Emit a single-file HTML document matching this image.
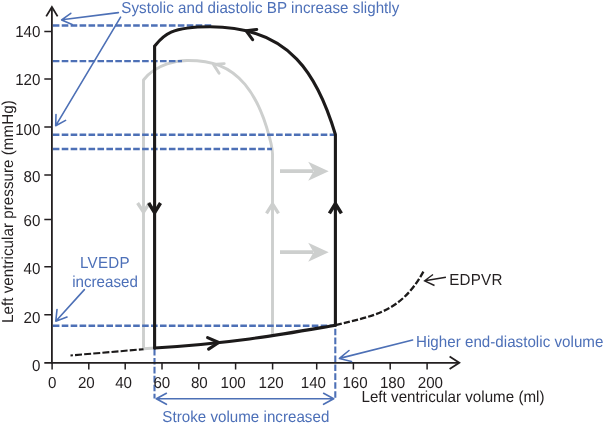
<!DOCTYPE html>
<html>
<head>
<meta charset="utf-8">
<title>Left ventricular pressure-volume loop</title>
<style>
html,body{margin:0;padding:0;background:#fff;}
svg{display:block;font-family:"Liberation Sans",Arial,sans-serif;text-rendering:geometricPrecision;}
.ax{stroke:#231f20;stroke-width:1.8;fill:none;}
.blk{stroke:#1c1a1a;stroke-width:3.1;fill:none;stroke-linecap:round;stroke-linejoin:round;}
.gry{stroke:#cdcfce;stroke-width:2.9;fill:none;stroke-linecap:round;stroke-linejoin:round;}
.bah{stroke:#1c1a1a;stroke-width:3.5;fill:none;stroke-linecap:butt;stroke-linejoin:round;}
.gah{stroke:#cdcfce;stroke-width:3.3;fill:none;stroke-linecap:butt;stroke-linejoin:round;}
.bd{stroke:#4d70b6;stroke-width:2.45;fill:none;stroke-dasharray:6.6 2.33;}
.bl{stroke:#4d70b6;stroke-width:1.6;fill:none;stroke-linecap:round;stroke-linejoin:round;}
.kd{stroke:#1c1a1a;stroke-width:2.3;fill:none;stroke-dasharray:6.3 2.11;}
.tk{fill:#231f20;font-size:15.15px;}
.bt{fill:#4d70b8;font-size:15.15px;}
</style>
</head>
<body>
<svg width="604" height="425" viewBox="0 0 604 425">
<rect width="604" height="425" fill="#fff"/>

<!-- grey (baseline) loop -->
<path class="gry" d="M143.5,349 L143.5,80 C156.5,63.4 178.7,60.3 188.2,60.5 C211.5,60.5 229.8,66.1 245,84.4 C265.7,109.2 272.5,150 272.5,154 L272.5,334"/>
<path class="gry" d="M143.5,348.8 L155,348"/>
<path class="gah" d="M137.6,203 L143.5,212.2 L149.4,203"/>
<path class="gah" d="M266.5,213.4 L272.5,204 L278.5,213.4"/>
<path class="gry" d="M224.2,63.6 L213.4,64.4 L219.1,73.2"/>
<!-- grey shift arrows -->
<g fill="#cdcfce" stroke="none">
<path d="M280,169.3 H313 V173.1 H280 Z"/>
<path d="M328.7,171.2 L308.2,161.7 L313.6,171.2 L308.2,180.7 Z"/>
<path d="M280,250.3 H313 V254.1 H280 Z"/>
<path d="M328.7,252.2 L308.2,242.7 L313.6,252.2 L308.2,261.7 Z"/>
</g>

<!-- EDPVR dashed -->
<path class="kd" style="stroke-dasharray:7 2.15;stroke-dashoffset:4.6;stroke-width:2.1" d="M70.5,355.5 L143.5,349.2"/>
<path class="kd" d="M335.5,325.2 C373.8,315.6 401,312.3 423.4,271.6"/>

<!-- blue dashed guides -->
<path class="bd" d="M52.8,25.4 H213"/>
<path class="bd" d="M52.8,61.1 H182"/>
<path class="bd" d="M52.8,134.7 H335"/>
<path class="bd" d="M52.8,149 H272"/>
<path class="bd" d="M52.8,325.8 H335"/>
<path class="bd" style="stroke-width:2.1" d="M154.5,349 V398.4"/>
<path class="bd" style="stroke-width:2.1;stroke-dashoffset:6.24" d="M335.3,326 V397.8"/>

<!-- black loop -->
<path class="blk" d="M154.6,348 L154.6,46.1 C163.3,35.8 169.2,26.8 210,26.8 C291.4,26.8 318.1,77 335.4,134.5 L335.4,325.2"/>
<path class="blk" d="M154.6,348 C238.9,342.6 284.2,333.9 335.4,325.2"/>
<path class="bah" d="M148.7,203 L154.6,212.6 L160.5,203"/>
<path class="bah" d="M329.4,213.4 L335.4,203.8 L341.4,213.4"/>
<path class="blk" d="M256.7,29.5 L246,30.7 L252.6,39.7"/>
<path class="blk" d="M207.6,337.7 L218.7,342.5 L208.6,349.1"/>

<!-- axes -->
<path class="ax" d="M51.9,363.7 V8"/>
<path class="ax" d="M46.2,16.4 L51.9,7 L57.6,16.4" stroke-linejoin="miter"/>
<path class="ax" d="M44.3,362.8 H458.6"/>
<path class="ax" d="M449.6,356.6 L459.3,362.8 L449.6,369" stroke-linejoin="miter"/>
<path class="ax" style="stroke-width:1.5" d="M44.3,31.5 H52 M44.3,79 H52 M44.3,127 H52 M44.3,175 H52 M44.3,219.6 H52 M44.3,266.8 H52 M44.3,314.7 H52"/>
<path class="ax" style="stroke-width:1.5" d="M52.1,362.8 V369.6 M88.8,362.8 V369.6 M125.2,362.8 V369.6 M162,362.8 V369.6 M198.8,362.8 V369.6 M235.6,362.8 V369.6 M272.6,362.8 V369.6 M316.7,362.8 V369.6 M353.4,362.8 V369.6 M390.2,362.8 V369.6 M427.1,362.8 V369.6"/>

<!-- tick labels -->
<g class="tk" text-anchor="end">
<text transform="translate(40.4,36.7) scale(1,1.045)">140</text>
<text transform="translate(40.4,84.6) scale(1,1.045)">120</text>
<text transform="translate(40.4,134.7) scale(1,1.045)">100</text>
<text transform="translate(40.4,181.7) scale(1,1.045)">80</text>
<text transform="translate(40.4,226.3) scale(1,1.045)">60</text>
<text transform="translate(40.4,273.9) scale(1,1.045)">40</text>
<text transform="translate(40.4,323.2) scale(1,1.045)">20</text>
<text transform="translate(40.4,370.6) scale(1,1.045)">0</text>
</g>
<g class="tk" text-anchor="middle">
<text transform="translate(52.1,387.7) scale(1,1.045)">0</text>
<text transform="translate(86.3,387.7) scale(1,1.045)">20</text>
<text transform="translate(123.6,387.7) scale(1,1.045)">40</text>
<text transform="translate(161.8,387.7) scale(1,1.045)">60</text>
<text transform="translate(199.3,387.7) scale(1,1.045)">80</text>
<text transform="translate(233.1,387.7) scale(1,1.045)">100</text>
<text transform="translate(271.1,387.7) scale(1,1.045)">120</text>
<text transform="translate(313.4,387.7) scale(1,1.045)">140</text>
<text transform="translate(355,387.7) scale(1,1.045)">160</text>
<text transform="translate(392.5,387.7) scale(1,1.045)">180</text>
<text transform="translate(430.4,387.7) scale(1,1.045)">200</text>
</g>

<!-- axis titles -->
<text class="tk" transform="translate(13.2,323) rotate(-90) scale(1,1.045)" textLength="222.7">Left ventricular pressure (mmHg)</text>
<text class="tk" textLength="183" transform="translate(361.5,401.8) scale(1,1.045)">Left ventricular volume (ml)</text>

<!-- annotations -->
<text class="bt" textLength="278" transform="translate(121.3,12.8) scale(1,1.045)">Systolic and diastolic BP increase slightly</text>
<path class="bl" d="M118.4,12.6 L62,19.8 M70.8,13.3 L61.6,19.9 L72.2,24.4"/>
<path class="bl" d="M120.6,17.2 L55.9,125.4 M56,114.6 L55.7,125.8 L65.6,120.4"/>

<text class="bt" text-anchor="middle" textLength="49.6" transform="translate(104.8,267.8) scale(1,1.045)">LVEDP</text>
<text class="bt" text-anchor="middle" textLength="65.7" transform="translate(105,286.7) scale(1,1.045)">increased</text>
<path class="bl" d="M84.4,289.6 L56,321 M57,309.5 L55.8,321.2 L67,317"/>

<text class="bt" textLength="187.4" transform="translate(416,346.5) scale(1,1.045)">Higher end-diastolic volume</text>
<path class="bl" d="M412.6,340 L339.6,358.4 M349,350.5 L339.4,358.4 L351.5,361.5"/>

<text class="bt" textLength="167" transform="translate(162.3,421.8) scale(1,1.045)">Stroke volume increased</text>
<path class="bl" d="M156.4,398.8 H333.6 M166.4,393.3 L156.3,398.8 L166.4,404.3 M323.6,393.3 L333.7,398.8 L323.6,404.3"/>

<text class="tk" textLength="53.2" transform="translate(449.2,284.6) scale(1,1.045)">EDPVR</text>
<path class="ax" style="stroke-width:1.4" d="M445.9,277.2 L424.8,280.7 M433,274.5 L424.6,280.8 L434.5,285.5"/>
</svg>
</body>
</html>
